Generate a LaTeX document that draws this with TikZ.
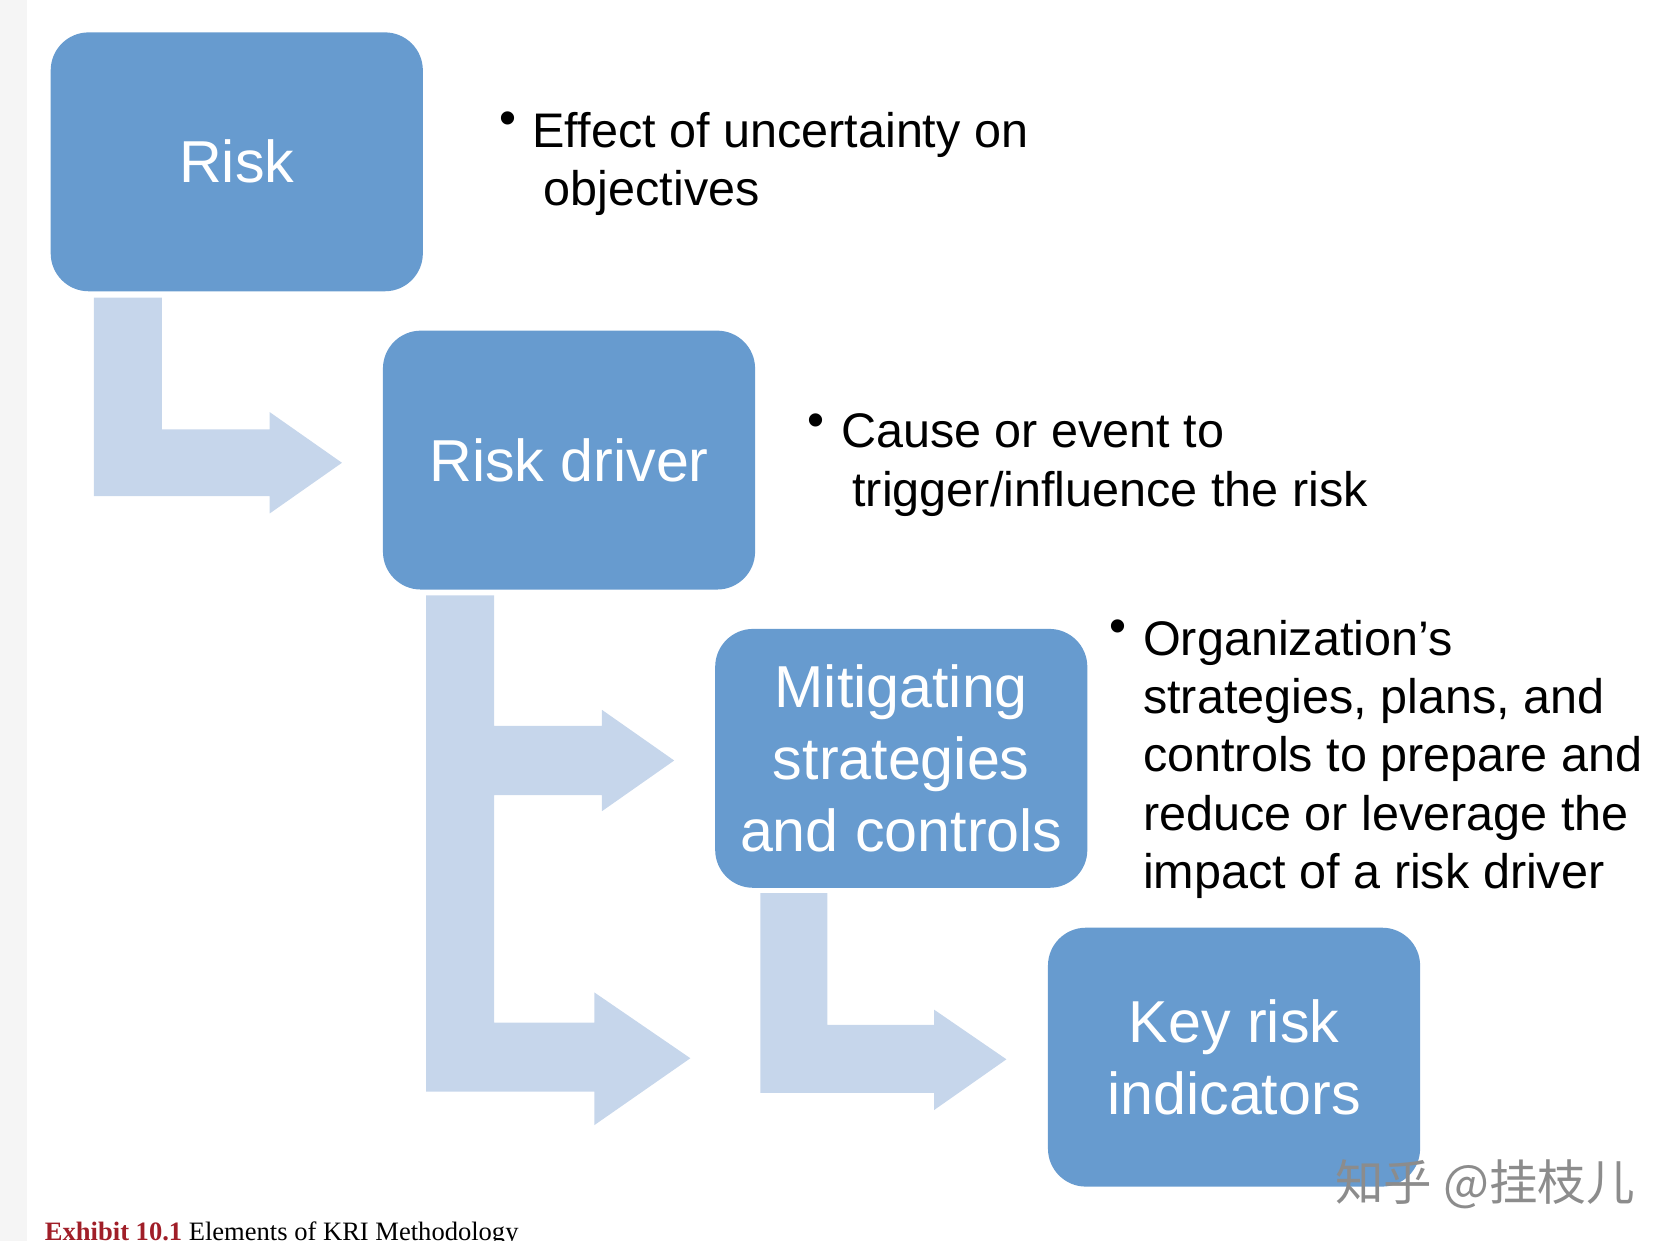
\documentclass[tikz,border=0pt]{standalone}
\usepackage{fontspec}
\setmainfont{Liberation Sans}
\newfontfamily\capfont{Liberation Serif}
\newfontfamily\cjk{Noto Sans CJK SC}
\definecolor{boxblue}{RGB}{103,155,207}
\definecolor{arrowblue}{RGB}{198,214,235}
\definecolor{capred}{RGB}{160,30,40}
\begin{document}
\begin{tikzpicture}[x=0.01cm,y=-0.01cm,
  box/.style={fill=boxblue,rounded corners=10pt,minimum width=345*0.01cm,minimum height=240*0.01cm,text=white,font=\fontsize{15.6}{19}\selectfont,align=center,inner sep=0pt},
  desc/.style={anchor=north west,align=left,font=\fontsize{12.8}{15.4}\selectfont,inner sep=0pt},
  arr/.style={fill=arrowblue}]
\useasboundingbox (0,0) rectangle (1550,1150);
\fill[black!4] (0,0) rectangle (25,1150);
% arrows
\fill[arr] (87,276) -- (150,276) -- (150,398) -- (250,398) -- (250,382) -- (317,429) -- (250,476) -- (250,460) -- (87,460) -- cycle;
\fill[arr] (395,552) -- (458,552) -- (458,673) -- (558,673) -- (558,658) -- (625,705) -- (558,752) -- (558,737) -- (458,737) -- (458,948) -- (551,948) -- (551,920) -- (640,981) -- (551,1043) -- (551,1012) -- (395,1012) -- cycle;
\fill[arr] (705,828) -- (767,828) -- (767,950) -- (866,950) -- (866,936) -- (933,982) -- (866,1029) -- (866,1013) -- (705,1013) -- cycle;
% boxes
\node[box] (risk) at (219.5,150) {Risk};
\node[box] (driver) at (527.5,426.5) {Risk driver};
\node[box] (mit) at (835.5,703) {Mitigating\\strategies\\and controls};
\node[box] (kri) at (1144,980) {Key risk\\indicators};
% descriptions
\node[desc] (b1) at (462,103) {•};
\node[desc] (d1) at (493,103) {Effect of uncertainty on\\\hspace*{3pt}objectives};
\node[desc] (b2) at (748,383) {•};
\node[desc] (d2) at (779,383) {Cause or event to\\\hspace*{3pt}trigger/influence the risk};
\node[desc] (b3) at (1028,574) {•};
\node[desc] (d3) at (1059,574) {Organization’s\\strategies, plans, and\\controls to prepare and\\reduce or leverage the\\impact of a risk driver};
% watermark
\node[anchor=west,inner sep=0pt,text=black!45,font=\cjk\fontsize{12.8}{14}\selectfont] (wm) at (1237,1098) {知乎 @挂枝儿};
% caption
\node[anchor=base west,inner sep=0pt,font=\capfont\fontsize{7}{8}\selectfont] (cap) at (41,1150) {\textcolor{capred}{\textbf{\underline{Exhibit 10.1}}} Elements of KRI Methodology};
\end{tikzpicture}
\end{document}
